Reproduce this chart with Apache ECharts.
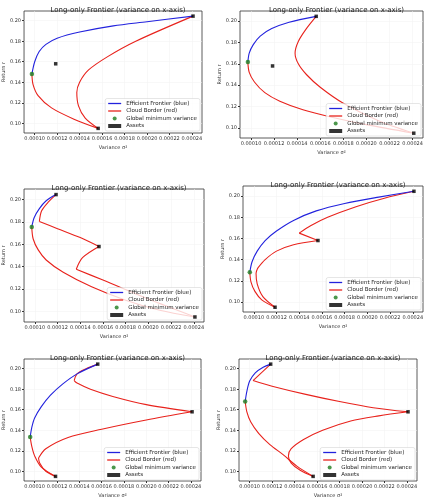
<!DOCTYPE html>
<html><head><meta charset="utf-8">
<script src="https://cdn.jsdelivr.net/npm/echarts@6/dist/echarts.min.js"></script>
<style>html,body{margin:0;padding:0;background:#fff}#c{width:428px;height:499px}</style>
</head><body><div id="c"></div>
<script>
// tick labels
const xTicks = [0.0001, 0.00012, 0.00014, 0.00016, 0.00018, 0.0002, 0.00022, 0.00024]
const yTicks = [0.10, 0.12, 0.14, 0.16, 0.18, 0.20]

// panel 1
const p1Blue = [[0.0000975,0.148],[0.0001,0.160],[0.000104,0.170],[0.00011,0.177],[0.00012,0.183],[0.00014,0.189],[0.00017,0.195],[0.0002,0.199],[0.000241,0.2045]]
const p1Red = [
  [[0.0000975,0.148],[0.0000985,0.138],[0.000103,0.127],[0.000115,0.115],[0.000135,0.104],[0.0001565,0.095]],
  [[0.0001565,0.095],[0.000145,0.105],[0.000139,0.117],[0.0001375,0.130],[0.00014,0.140],[0.000148,0.152],[0.000165,0.165],[0.00019,0.180],[0.000241,0.2045]]
]
const p1Gmv = [[0.0000975,0.148]]
const p1Assets = [[0.000241,0.2045],[0.0001565,0.095],[0.0001187,0.158]]

// panel 2
const p2Blue = [[0.0000973,0.1616],[0.0000985,0.170],[0.000102,0.178],[0.000108,0.186],[0.000118,0.193],[0.000133,0.199],[0.0001565,0.2045]]
const p2Red = [
  [[0.0000973,0.1616],[0.0000985,0.152],[0.000103,0.143],[0.000112,0.133],[0.000125,0.125],[0.000145,0.117],[0.00017,0.110],[0.0002,0.103],[0.000241,0.095]],
  [[0.000241,0.095],[0.00021,0.107],[0.00018,0.123],[0.00016,0.138],[0.000148,0.150],[0.000141,0.160],[0.0001382,0.170],[0.000141,0.181],[0.000148,0.193],[0.0001565,0.2045]]
]
const p2Gmv = [[0.0000973,0.1616]]
const p2Assets = [[0.0001565,0.2045],[0.0001187,0.158],[0.000241,0.095]]

// panel 3
const p3Blue = [[0.0000973,0.1756],[0.0000995,0.184],[0.000104,0.192],[0.00011,0.199],[0.0001187,0.2045]]
const p3Red = [
  [[0.0000973,0.1756],[0.0000985,0.165],[0.000103,0.155],[0.00011,0.146],[0.000125,0.135],[0.00015,0.122],[0.00018,0.110],[0.00021,0.101],[0.000241,0.095]],
  [[0.000241,0.095],[0.0002,0.111],[0.00016,0.128],[0.0001365,0.1377]],
  [[0.0001365,0.1377],[0.000142,0.148],[0.0001565,0.158]],
  [[0.0001565,0.158],[0.00014,0.166],[0.00012,0.174],[0.000104,0.1804]],
  [[0.000104,0.1804],[0.000106,0.190],[0.000112,0.198],[0.0001187,0.2045]]
]
const p3Gmv = [[0.0000973,0.1756]]
const p3Assets = [[0.0001187,0.2045],[0.0001565,0.158],[0.000241,0.095]]

// panel 4
const p4Blue = [[0.0000965,0.128],[0.0000985,0.138],[0.000103,0.148],[0.00011,0.158],[0.00012,0.167],[0.000135,0.177],[0.000155,0.186],[0.00018,0.193],[0.00021,0.199],[0.000241,0.2045]]
const p4Red = [
  [[0.0000965,0.128],[0.0000975,0.119],[0.000101,0.110],[0.000107,0.102],[0.0001187,0.095]],
  [[0.0001187,0.095],[0.000108,0.105],[0.000103,0.117],[0.000102,0.127],[0.0001035,0.132]],
  [[0.0001035,0.132],[0.00011,0.140],[0.00012,0.148],[0.000135,0.154],[0.0001565,0.158]],
  [[0.0001565,0.158],[0.00014,0.165]],
  [[0.00014,0.165],[0.00015,0.172],[0.000165,0.180],[0.00019,0.190],[0.000215,0.198],[0.000241,0.2045]]
]
const p4Gmv = [[0.0000965,0.128]]
const p4Assets = [[0.000241,0.2045],[0.0001565,0.158],[0.0001187,0.095]]

// panel 5
const p5Blue = [[0.000096,0.1333],[0.0000975,0.143],[0.0001,0.152],[0.000106,0.163],[0.000114,0.174],[0.000125,0.185],[0.000138,0.195],[0.0001565,0.2045]]
const p5Red = [
  [[0.000096,0.1333],[0.0000975,0.124],[0.0001,0.115],[0.000106,0.104],[0.0001187,0.095]],
  [[0.0001187,0.095],[0.00011,0.100],[0.0001045,0.108],[0.0001035,0.113]],
  [[0.0001035,0.113],[0.00011,0.122],[0.00013,0.133],[0.00016,0.141],[0.0002,0.150],[0.000241,0.158]],
  [[0.000241,0.158],[0.0002,0.165],[0.00017,0.173],[0.00015,0.180],[0.000138,0.186],[0.0001354,0.1885]],
  [[0.0001354,0.1885],[0.000138,0.195],[0.000146,0.200],[0.0001565,0.2045]]
]
const p5Gmv = [[0.000096,0.1333]]
const p5Assets = [[0.0001565,0.2045],[0.000241,0.158],[0.0001187,0.095]]

// panel 6
const p6Blue = [[0.000096,0.168],[0.0000975,0.178],[0.0001,0.188],[0.000105,0.196],[0.000112,0.2015],[0.0001187,0.2045]]
const p6Red = [
  [[0.000096,0.168],[0.0000975,0.158],[0.000101,0.148],[0.000108,0.137],[0.000118,0.126],[0.00013,0.116],[0.000142,0.105],[0.0001565,0.095]],
  [[0.0001565,0.095],[0.000145,0.101],[0.000137,0.108],[0.0001345,0.115],[0.000137,0.122],[0.000148,0.131],[0.000165,0.140],[0.00019,0.149],[0.000215,0.154],[0.000241,0.158]],
  [[0.000241,0.158],[0.00021,0.162],[0.00018,0.168],[0.00015,0.175],[0.00012,0.183],[0.000103,0.1885]],
  [[0.000103,0.1885],[0.0001187,0.2045]]
]
const p6Gmv = [[0.000096,0.168]]
const p6Assets = [[0.0001187,0.2045],[0.000241,0.158],[0.0001565,0.095]]

const panels = [
  { rect: [24, 11, 178, 122], blue: p1Blue, red: p1Red, gmv: p1Gmv, assets: p1Assets },
  { rect: [240, 11, 183, 127], blue: p2Blue, red: p2Red, gmv: p2Gmv, assets: p2Assets },
  { rect: [24, 189, 180, 133], blue: p3Blue, red: p3Red, gmv: p3Gmv, assets: p3Assets },
  { rect: [243, 186, 180, 126], blue: p4Blue, red: p4Red, gmv: p4Gmv, assets: p4Assets },
  { rect: [24, 359, 177, 123], blue: p5Blue, red: p5Red, gmv: p5Gmv, assets: p5Assets },
  { rect: [239, 359, 178, 123], blue: p6Blue, red: p6Red, gmv: p6Gmv, assets: p6Assets },
]

const font = 'DejaVu Sans'
const lineIcon = 'path://M0,0L20,0L20,2L0,2Z'
const grid = [], xAxis = [], yAxis = [], series = [], title = [], legend = []

panels.forEach((p, i) => {
  const [l, t, w, h] = p.rect
  grid.push({ left: l, top: t, width: w, height: h, show: true, borderColor: '#333', borderWidth: 0.8 })
  title.push({
    text: 'Long-only Frontier (variance on x-axis)', left: l + w / 2, top: t - 9, textAlign: 'center',
    textStyle: { fontFamily: font, fontSize: 7, fontWeight: 'normal', color: '#222' },
  })
  xAxis.push({
    type: 'value', gridIndex: i, min: 0.0000905, max: 0.000249,
    name: 'Variance σ²', nameLocation: 'middle', nameGap: 12,
    nameTextStyle: { fontFamily: font, fontSize: 5, color: '#333' },
    axisLine: { show: false },
    axisTick: { show: true, length: 2, customValues: xTicks, lineStyle: { color: '#333' } },
    axisLabel: { fontFamily: font, fontSize: 5, color: '#333', margin: 3, customValues: xTicks, formatter: v => v.toFixed(5) },
    splitLine: { show: true, lineStyle: { color: '#f0f0f0', width: 0.5 } },
  })
  yAxis.push({
    type: 'value', gridIndex: i, min: 0.0905, max: 0.2095,
    name: 'Return r', nameLocation: 'middle', nameGap: 16,
    nameTextStyle: { fontFamily: font, fontSize: 5, color: '#333' },
    axisLine: { show: false },
    axisTick: { show: true, length: 2, customValues: yTicks, lineStyle: { color: '#333' } },
    axisLabel: { fontFamily: font, fontSize: 5, color: '#333', margin: 3, customValues: yTicks, formatter: v => v.toFixed(2) },
    splitLine: { show: true, lineStyle: { color: '#f0f0f0', width: 0.5 } },
  })
  legend.push({
    right: 428 - (l + w) + 2, bottom: 499 - (t + h) + 2, orient: 'vertical',
    data: [
      { name: 'Efficient Frontier (blue)', icon: lineIcon, itemHeight: 1.3 },
      { name: 'Cloud Border (red)', icon: lineIcon, itemHeight: 1.3 },
      { name: 'Global minimum variance', icon: 'circle' },
      { name: 'Assets', icon: 'rect' },
    ],
    itemWidth: 13, itemHeight: 4, itemGap: 1.5, padding: [2, 3],
    backgroundColor: 'rgba(255,255,255,0.8)', borderColor: '#ccc', borderWidth: 0.5, borderRadius: 2,
    textStyle: { fontFamily: font, fontSize: 5.5, color: '#222' },
  })
  p.red.forEach(seg => series.push({
    name: 'Cloud Border (red)', type: 'line', xAxisIndex: i, yAxisIndex: i, data: seg,
    smooth: 0.3, symbol: 'none', color: '#e8221c', lineStyle: { width: 1.1 }, z: 2,
  }))
  series.push({
    name: 'Efficient Frontier (blue)', type: 'line', xAxisIndex: i, yAxisIndex: i, data: p.blue,
    smooth: 0.3, symbol: 'none', color: '#2222dd', lineStyle: { width: 1.1 }, z: 3,
  })
  series.push({
    name: 'Global minimum variance', type: 'scatter', xAxisIndex: i, yAxisIndex: i, data: p.gmv,
    symbol: 'circle', symbolSize: 4.5, color: '#1e7d1e', z: 4,
  })
  series.push({
    name: 'Assets', type: 'scatter', xAxisIndex: i, yAxisIndex: i, data: p.assets,
    symbol: 'rect', symbolSize: 3.5, color: '#000', z: 5,
  })
})

const chart = echarts.init(document.getElementById('c'))
chart.setOption({ animation: false, title, legend, grid, xAxis, yAxis, series })
</script></body></html>
